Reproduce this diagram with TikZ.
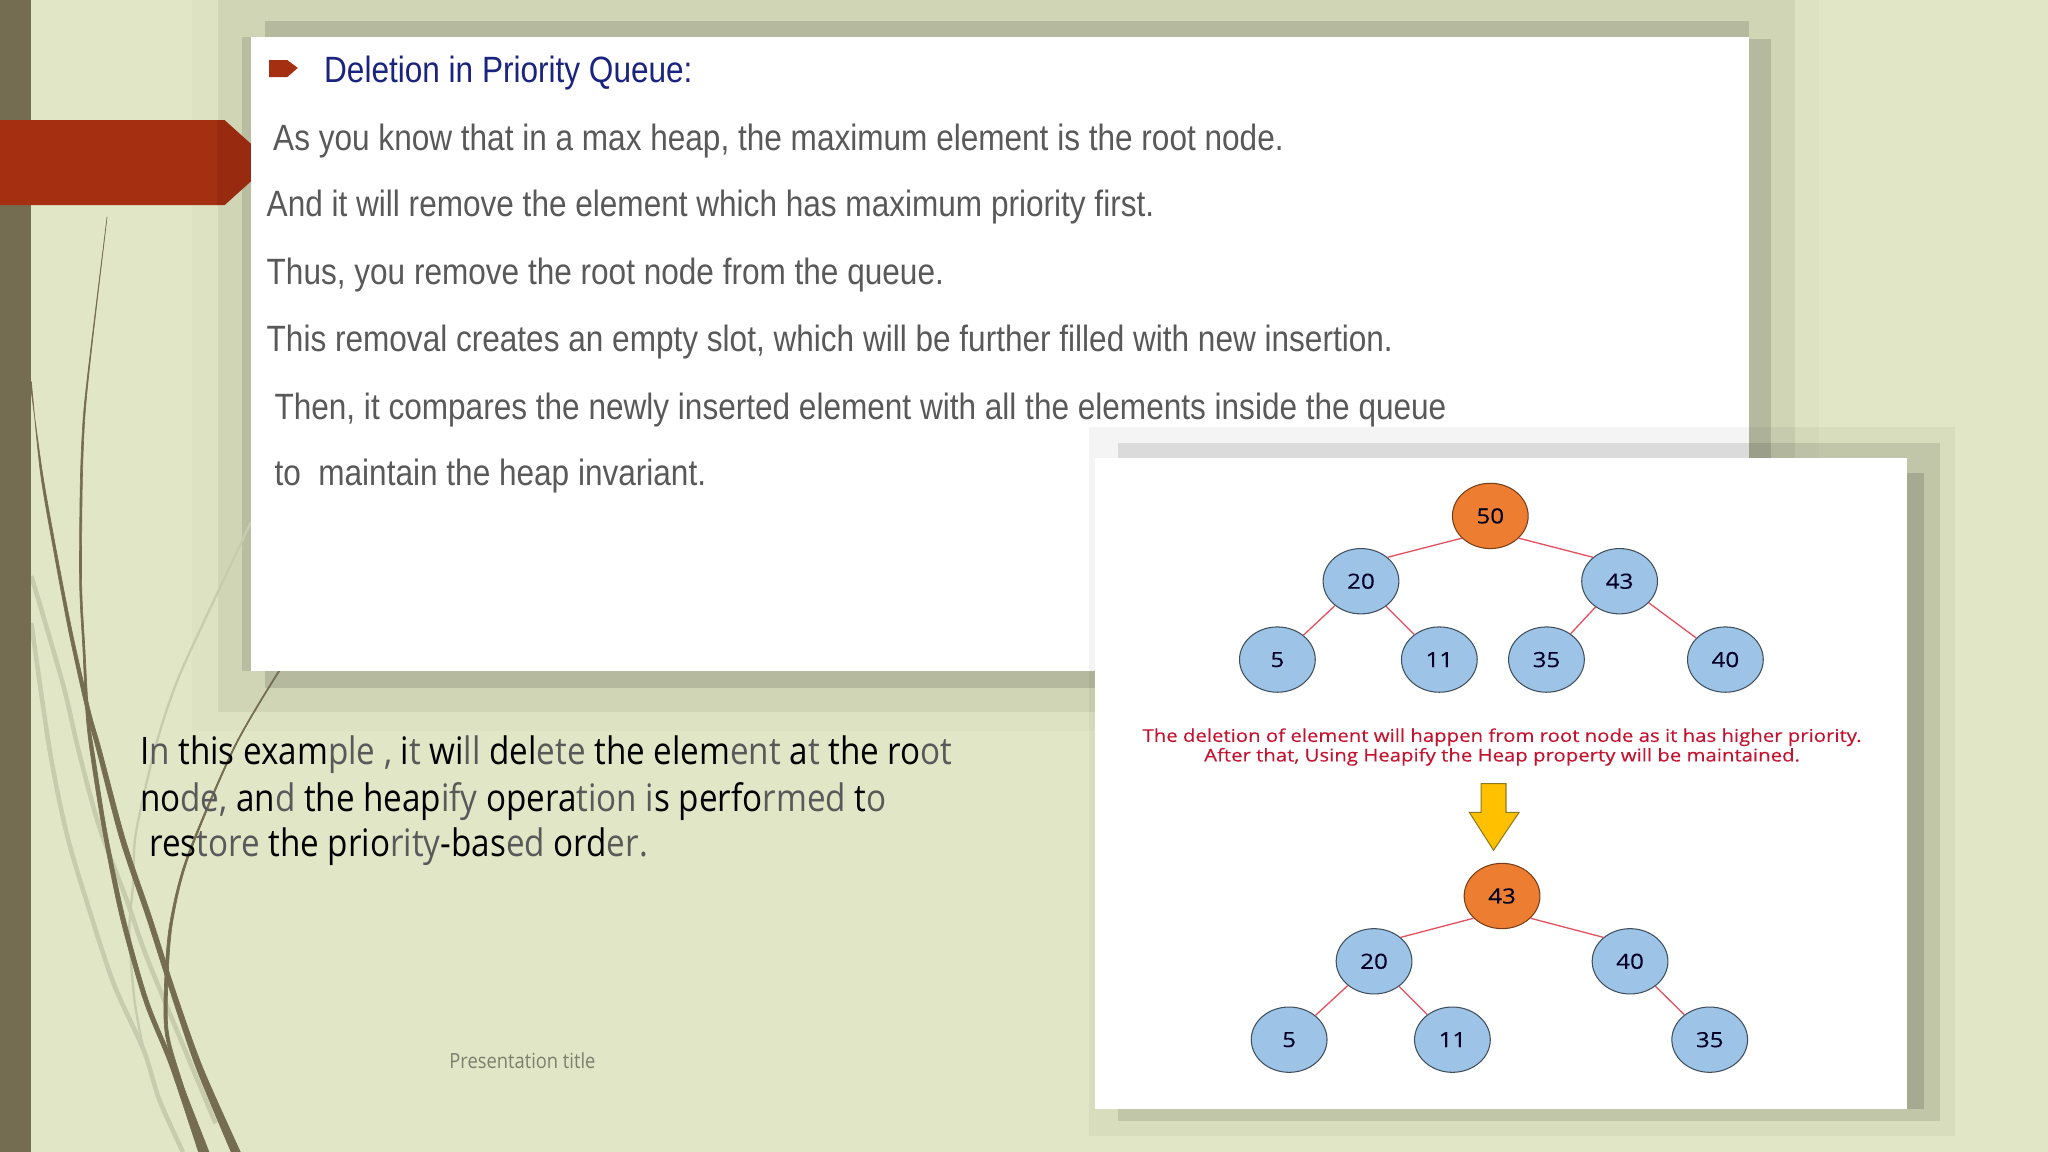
\documentclass[tikz,border=0pt]{standalone}
\usepackage{fontspec}
\usetikzlibrary{shapes.geometric}
\newfontfamily\slidefont[FakeStretch=0.863]{Liberation Sans}
\newfontfamily\notefont[FakeStretch=0.877]{Open Sans}
\newfontfamily\heapfont[FakeStretch=1.155,FakeBold=0.2]{Open Sans}
\definecolor{slidebg}{HTML}{E1E7C6}
\definecolor{bandcol}{HTML}{756D52}
\definecolor{redcol}{HTML}{A52F11}
\definecolor{bluetext}{HTML}{1A237E}
\definecolor{greytext}{HTML}{595959}
\definecolor{lightwisp}{HTML}{C7CCAE}
\definecolor{heapblue}{HTML}{9DC3E6}
\definecolor{heaporange}{HTML}{ED7D31}
\definecolor{heapred}{HTML}{C4122F}
\definecolor{edgered}{HTML}{E4505F}
\definecolor{arrowfill}{HTML}{FFC000}
\definecolor{arrowline}{HTML}{8C7A1E}
\newcommand{\fd}[1]{\textcolor{greytext}{#1}}
\tikzset{
	bodyline/.style={anchor=base west,inner sep=0pt,text=greytext,font=\slidefont\fontsize{28}{30}\selectfont},
	noteline/.style={anchor=base west,inner sep=0pt,text=black,font=\notefont\fontsize{29}{31}\selectfont},
	redline/.style={anchor=base,inner sep=0pt,text=heapred,font=\heapfont\fontsize{13.5}{15}\selectfont},
	heapnode/.style={ellipse,draw=black!60!heapblue,line width=0.8pt,fill=heapblue,minimum width=58pt,minimum height=50pt,inner sep=0pt,text=black!85!blue,font=\heapfont\fontsize{16}{18}\selectfont},
	rootnode/.style={heapnode,fill=heaporange,draw=black!50!heaporange},
	heapedge/.style={edgered,line width=1pt},
	softwisp/.style={lightwisp,line width=3.5pt},
	wisp/.style={fill=bandcol,draw=bandcol,line width=0.5pt}
}
\begin{document}
\begin{tikzpicture}[x=1pt,y=-1pt]
	\useasboundingbox (0,0) rectangle (1568,882);
	\fill[slidebg] (0,0) rectangle (1568,882);
	\fill[black,opacity=.015] (147,-10) rectangle (1393,560);
	\fill[black,opacity=.06] (167,-10) rectangle (1374,545);
	\fill[black,opacity=.125] (203,16) rectangle (1339,30);
	\fill[black,opacity=.125] (203,30) rectangle (1356,527);
	\fill[black,opacity=.11] (185,28) rectangle (192,514);
	\draw[softwisp] plot[smooth] coordinates {(24,477) (38,574) (51,638) (66,689) (87,753) (110,804) (122,842) (140,882)};
	\draw[softwisp] plot[smooth] coordinates {(24,441) (48,523) (60,574) (76,633) (97,689) (112,732) (140,800) (165,860)};
	\draw[lightwisp,line width=1.8pt] plot[smooth] coordinates {(192,400) (158,472) (135,523) (119,572) (104,638) (102,676) (99,714) (103,766) (110,804)};
	\filldraw[wisp] plot[smooth] coordinates {(82,166) (69.4,268) (63.8,319) (61.5,370) (61,447) (63.5,497) (66,548) (70,582) (79,638) (92,702) (110,766) (130,816) (152,882)} -- plot[smooth] coordinates {(160,882) (134,816) (113.5,766) (95.5,702) (82,638) (73,582) (68,548) (65,497) (62.5,447) (63,370) (65,319) (70,268) (82,166)} -- cycle;
	\filldraw[wisp] plot[smooth] coordinates {(24,292) (31,362) (41,421) (53,485) (66,544) (74,574) (92,643) (112,702) (130,758) (150,817) (177,882)} -- plot[smooth] coordinates {(184,882) (155,817) (134,758) (116,702) (96,643) (77.5,574) (69,544) (55.5,485) (43,421) (32.5,362) (24,300)} -- cycle;
	\filldraw[wisp] plot[smooth] coordinates {(213,514) (179,572) (143,656) (130,707) (126,753) (126.5,791) (137,830) (155,882)} -- plot[smooth] coordinates {(158,882) (140,830) (129,791) (128.5,753) (132,707) (144.5,656) (180,572) (214,514)} -- cycle;
	\fill[bandcol] (0,0) rectangle (24,882);
	\fill[white] (192,28) rectangle (1339,514);
	\fill[redcol] (0,92) -- (172,92) -- (192,110) -- (192,139) -- (172,157) -- (0,157) -- cycle;
	\fill[black,opacity=.08] (166,92) -- (172,92) -- (192,110) -- (192,139) -- (172,157) -- (166,157) -- cycle;
	\fill[redcol] (206,46) -- (220,46) -- (228,52) -- (220,59) -- (206,59) -- cycle;
	\node[bodyline,text=bluetext] (title) at (248,63) {Deletion in Priority Queue:};
	\node[bodyline] (lineA) at (209,115) {As you know that in a max heap, the maximum element is the root node.};
	\node[bodyline] (lineB) at (204,166) {And it will remove the element which has maximum priority first.};
	\node[bodyline] (lineC) at (204,218) {Thus, you remove the root node from the queue.};
	\node[bodyline] (lineD) at (204,269) {This removal creates an empty slot, which will be further filled with new insertion.};
	\node[bodyline] (lineE) at (210,321) {Then, it compares the newly inserted element with all the elements inside the queue};
	\node[bodyline] (lineF) at (210,372) {to\ \ maintain the heap invariant.};
	\node[noteline] (noteA) at (107,585) {I\fd{n} this exam\fd{ple , }i\fd{t} wi\fd{ll} del\fd{ete} the elem\fd{ent} a\fd{t} the ro\fd{ot}};
	\node[noteline] (noteB) at (107,621) {no\fd{de,} an\fd{d} the heap\fd{ify} opera\fd{tion} \fd{i}s perfo\fd{rmed} t\fd{o}};
	\node[noteline] (noteC) at (114,656) {res\fd{t}\fd{ore} the prio\fd{rity}-bas\fd{ed} ord\fd{er.}};
	\node[anchor=base,inner sep=0pt,text=black!45!slidebg,font=\notefont\fontsize{16}{18}\selectfont] (footer) at (400,818) {Presentation title};
	\fill[black,opacity=.045] (834,327) rectangle (1497,870);
	\fill[black,opacity=.1] (856,339.5) rectangle (1485,858);
	\fill[black,opacity=.14] (880,362) rectangle (1473,849);
	\fill[white] (838,351) rectangle (1460,849);
	\node[rootnode] (top50) at (1141,395) {50};
	\node[heapnode] (top20) at (1042,445) {20};
	\node[heapnode] (top43) at (1240,445) {43};
	\node[heapnode] (top5) at (978,505) {5};
	\node[heapnode] (top11) at (1102,505) {11};
	\node[heapnode] (top35) at (1184,505) {35};
	\node[heapnode] (top40) at (1321,505) {40};
	\draw[heapedge] (top50.218) -- (top20.42);
	\draw[heapedge] (top50.322) -- (top43.138);
	\draw[heapedge] (top20) -- (top5);
	\draw[heapedge] (top20) -- (top11);
	\draw[heapedge] (top43) -- (top35);
	\draw[heapedge] (top43) -- (top40);
	\node[redline] (msgA) at (1150,568) {The deletion of element will happen from root node as it has higher priority.};
	\node[redline] (msgB) at (1150,583) {After that, Using Heapify the Heap property will be maintained.};
	\draw[fill=arrowfill,draw=arrowline,line width=0.8pt] (1134,600) -- (1153,600) -- (1153,622) -- (1163,622) -- (1143.5,651) -- (1125,622) -- (1134,622) -- cycle;
	\node[rootnode] (low43) at (1150,686) {43};
	\node[heapnode] (low20) at (1052,736) {20};
	\node[heapnode] (low40) at (1248,736) {40};
	\node[heapnode] (low5) at (987,796) {5};
	\node[heapnode] (low11) at (1112,796) {11};
	\node[heapnode] (low35) at (1309,796) {35};
	\draw[heapedge] (low43.218) -- (low20.42);
	\draw[heapedge] (low43.322) -- (low40.138);
	\draw[heapedge] (low20) -- (low5);
	\draw[heapedge] (low20) -- (low11);
	\draw[heapedge] (low40) -- (low35);
\end{tikzpicture}
\end{document}
